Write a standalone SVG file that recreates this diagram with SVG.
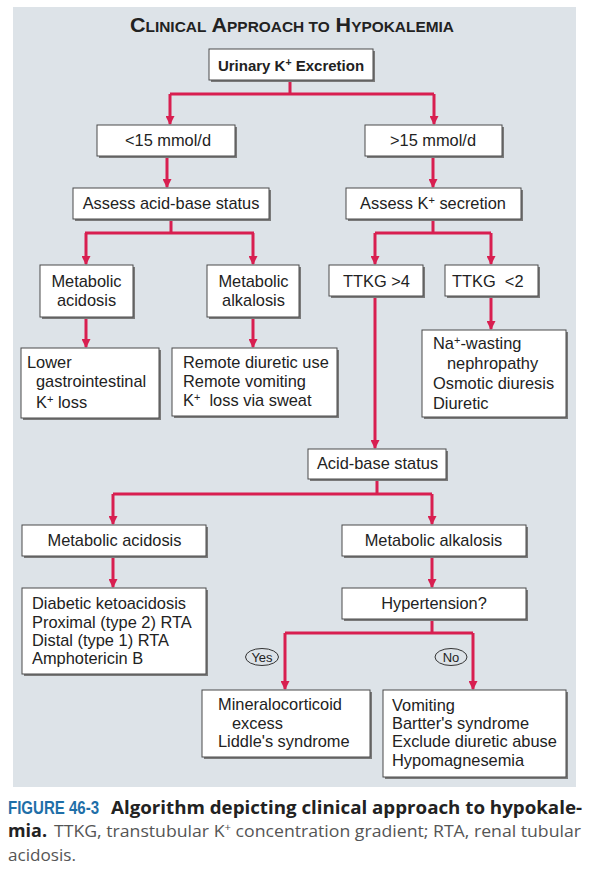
<svg xmlns="http://www.w3.org/2000/svg" width="591" height="877" viewBox="0 0 591 877">
<style>
.bx{fill:#ffffff;stroke:#4a4a4a;stroke-width:1}
.sh{fill:#7a7a7a}
.t{font-family:"Liberation Sans",Arial,sans-serif;font-size:16.4px;fill:#222}
.c{text-anchor:middle}
.b{font-weight:bold;font-size:15px}
.cn{fill:none;stroke:#d81f50;stroke-width:3}
.ar{fill:#d81f50}
.cap{font-family:"Open Sans","Noto Sans",sans-serif;font-size:17px}
.yn{font-family:"Liberation Sans Narrow","Liberation Sans",sans-serif;font-size:13px;fill:#222;text-anchor:middle}
</style>
<defs>
<marker id="ah" viewBox="0 0 10 10" refX="9" refY="5" markerWidth="3.3" markerHeight="3" orient="auto" markerUnits="strokeWidth">
<path d="M0,0 L10,5 L0,10 z" class="ar"/>
</marker>
</defs>
<rect x="0" y="0" width="591" height="877" fill="#ffffff"/>
<rect x="13" y="7" width="563" height="780" fill="#dde3e8"/>
<text x="130" y="32" textLength="324" lengthAdjust="spacingAndGlyphs" font-family="Liberation Sans,Arial,sans-serif" font-weight="bold" fill="#222" font-size="19.5">C<tspan font-size="14">LINICAL</tspan> A<tspan font-size="14">PPROACH TO</tspan> H<tspan font-size="14">YPOKALEMIA</tspan></text>

<g id="connectors">
<path class="cn" d="M290,80 V94 M170,94 H434" />
<path class="cn" d="M170,94 V124" marker-end="url(#ah)"/>
<path class="cn" d="M434,94 V124" marker-end="url(#ah)"/>
<path class="cn" d="M167,156 V187" marker-end="url(#ah)"/>
<path class="cn" d="M433,156 V187" marker-end="url(#ah)"/>
<path class="cn" d="M171,219 V233 M85,233 H254"/>
<path class="cn" d="M86,233 V264" marker-end="url(#ah)"/>
<path class="cn" d="M253,233 V264" marker-end="url(#ah)"/>
<path class="cn" d="M433,219 V233 M375,233 H491"/>
<path class="cn" d="M375,233 V264" marker-end="url(#ah)"/>
<path class="cn" d="M491,233 V264" marker-end="url(#ah)"/>
<path class="cn" d="M86,317 V347" marker-end="url(#ah)"/>
<path class="cn" d="M253,317 V347" marker-end="url(#ah)"/>
<path class="cn" d="M491,296 V329" marker-end="url(#ah)"/>
<path class="cn" d="M375,296 V448" marker-end="url(#ah)"/>
<path class="cn" d="M377,479 V494 M113,494 H432"/>
<path class="cn" d="M113,494 V524" marker-end="url(#ah)"/>
<path class="cn" d="M432,494 V524" marker-end="url(#ah)"/>
<path class="cn" d="M113,556 V587" marker-end="url(#ah)"/>
<path class="cn" d="M432,556 V587" marker-end="url(#ah)"/>
<path class="cn" d="M432,619 V633 M285,633 H473"/>
<path class="cn" d="M285,633 V689" marker-end="url(#ah)"/>
<path class="cn" d="M473,633 V689" marker-end="url(#ah)"/>
</g>

<g id="urinary"><rect class="sh" x="211" y="51" width="164" height="31"/><rect class="bx" x="209" y="49" width="164" height="31"/>
<text class="t c b" x="291" y="71">Urinary K<tspan font-size="10.5" dy="-5">+</tspan><tspan dy="5"> Excretion</tspan></text></g>

<g id="lt15"><rect class="sh" x="99" y="127" width="138" height="31"/><rect class="bx" x="97" y="125" width="138" height="31"/>
<text class="t c" x="168" y="146">&lt;15 mmol/d</text></g>

<g id="gt15"><rect class="sh" x="367" y="127" width="137" height="31"/><rect class="bx" x="365" y="125" width="137" height="31"/>
<text class="t c" x="433" y="146">&gt;15 mmol/d</text></g>

<g id="acidbase1"><rect class="sh" x="75" y="190" width="196" height="31"/><rect class="bx" x="73" y="188" width="196" height="31"/>
<text class="t c" x="171" y="209">Assess acid-base status</text></g>

<g id="ksec"><rect class="sh" x="348" y="190" width="175" height="31"/><rect class="bx" x="346" y="188" width="175" height="31"/>
<text class="t c" x="433" y="209">Assess K<tspan font-size="11" dy="-5">+</tspan><tspan dy="5"> secretion</tspan></text></g>

<g id="metacid1"><rect class="sh" x="42" y="267" width="93" height="52"/><rect class="bx" x="40" y="265" width="93" height="52"/>
<text class="t c" x="86.5" y="287">Metabolic</text><text class="t c" x="86.5" y="306">acidosis</text></g>

<g id="metalk1"><rect class="sh" x="209" y="267" width="92" height="52"/><rect class="bx" x="207" y="265" width="92" height="52"/>
<text class="t c" x="253.5" y="287">Metabolic</text><text class="t c" x="253.5" y="306">alkalosis</text></g>

<g id="ttkg4"><rect class="sh" x="331" y="267" width="94" height="31"/><rect class="bx" x="329" y="265" width="94" height="31"/>
<text class="t c" x="376.5" y="287">TTKG &gt;4</text></g>

<g id="ttkg2"><rect class="sh" x="447" y="267" width="93" height="31"/><rect class="bx" x="445" y="265" width="93" height="31"/>
<text class="t" x="452" y="287" xml:space="preserve">TTKG  &lt;2</text></g>

<g id="lowergi"><rect class="sh" x="23" y="350" width="138" height="70"/><rect class="bx" x="21" y="348" width="138" height="70"/>
<text class="t" x="27" y="368">Lower</text><text class="t" x="36" y="387">gastrointestinal</text>
<text class="t" x="36" y="408" xml:space="preserve">K<tspan font-size="11" dy="-5">+</tspan><tspan dy="5"> loss</tspan></text></g>

<g id="remote"><rect class="sh" x="174" y="350" width="165" height="68"/><rect class="bx" x="172" y="348" width="165" height="68"/>
<text class="t" x="183" y="368">Remote diuretic use</text><text class="t" x="183" y="387">Remote vomiting</text>
<text class="t" x="183" y="406" xml:space="preserve">K<tspan font-size="11" dy="-5">+</tspan><tspan dy="5">  loss via sweat</tspan></text></g>

<g id="nawasting"><rect class="sh" x="424" y="332" width="144" height="87"/><rect class="bx" x="422" y="330" width="144" height="87"/>
<text class="t" x="433" y="349">Na<tspan font-size="11" dy="-5">+</tspan><tspan dy="5">-wasting</tspan></text>
<text class="t" x="447" y="369">nephropathy</text><text class="t" x="433" y="389">Osmotic diuresis</text><text class="t" x="433" y="409">Diuretic</text></g>

<g id="acidbase2"><rect class="sh" x="310" y="451" width="138" height="30"/><rect class="bx" x="308" y="449" width="138" height="30"/>
<text class="t c" x="377.5" y="469">Acid-base status</text></g>

<g id="metacid2"><rect class="sh" x="24" y="527" width="184" height="31"/><rect class="bx" x="22" y="525" width="184" height="31"/>
<text class="t c" x="114.5" y="546">Metabolic acidosis</text></g>

<g id="metalk2"><rect class="sh" x="344" y="527" width="184" height="31"/><rect class="bx" x="342" y="525" width="184" height="31"/>
<text class="t c" x="433.5" y="546">Metabolic alkalosis</text></g>

<g id="diabetic"><rect class="sh" x="24" y="590" width="184" height="86"/><rect class="bx" x="22" y="588" width="184" height="86"/>
<text class="t" x="32" y="609">Diabetic ketoacidosis</text><text class="t" x="32" y="628">Proximal (type 2) RTA</text>
<text class="t" x="32" y="646">Distal (type 1) RTA</text><text class="t" x="32" y="664">Amphotericin B</text></g>

<g id="hypertension"><rect class="sh" x="344" y="590" width="184" height="31"/><rect class="bx" x="342" y="588" width="184" height="31"/>
<text class="t c" x="434" y="609">Hypertension?</text></g>

<g id="yes"><ellipse cx="262" cy="657" rx="16.5" ry="8.5" fill="none" stroke="#333" stroke-width="1"/>
<text class="yn" x="262" y="661.5">Yes</text></g>

<g id="no"><ellipse cx="451" cy="657" rx="16" ry="8.5" fill="none" stroke="#333" stroke-width="1"/>
<text class="yn" x="451" y="661.5">No</text></g>

<g id="mineralo"><rect class="sh" x="204" y="692" width="168" height="67"/><rect class="bx" x="202" y="690" width="168" height="67"/>
<text class="t" x="218" y="710">Mineralocorticoid</text><text class="t" x="232" y="729">excess</text><text class="t" x="218" y="747">Liddle's syndrome</text></g>

<g id="vomiting"><rect class="sh" x="385" y="692" width="183" height="87"/><rect class="bx" x="383" y="690" width="183" height="87"/>
<text class="t" x="392" y="711">Vomiting</text><text class="t" x="392" y="729">Bartter's syndrome</text>
<text class="t" x="392" y="747">Exclude diuretic abuse</text><text class="t" x="392" y="766">Hypomagnesemia</text></g>

<g id="caption">
<text x="8" y="814" textLength="91" lengthAdjust="spacingAndGlyphs" font-family="Liberation Sans Narrow,Liberation Sans,sans-serif" font-weight="bold" font-size="18.5" fill="#1f6fa8">FIGURE 46-3</text>
<text class="cap" x="111" y="814" textLength="471" lengthAdjust="spacingAndGlyphs" font-weight="bold" fill="#222">Algorithm depicting clinical approach to hypokale-</text>
<text class="cap" x="8" y="837" textLength="39" lengthAdjust="spacingAndGlyphs" font-weight="bold" fill="#222">mia.</text>
<text class="cap" x="54" y="837" textLength="527" lengthAdjust="spacingAndGlyphs" fill="#555">TTKG, transtubular K<tspan font-size="11" dy="-6">+</tspan><tspan dy="6"> concentration gradient; RTA, renal tubular</tspan></text>
<text class="cap" x="8" y="861" textLength="68" lengthAdjust="spacingAndGlyphs" fill="#555">acidosis.</text>
</g>
</svg>
